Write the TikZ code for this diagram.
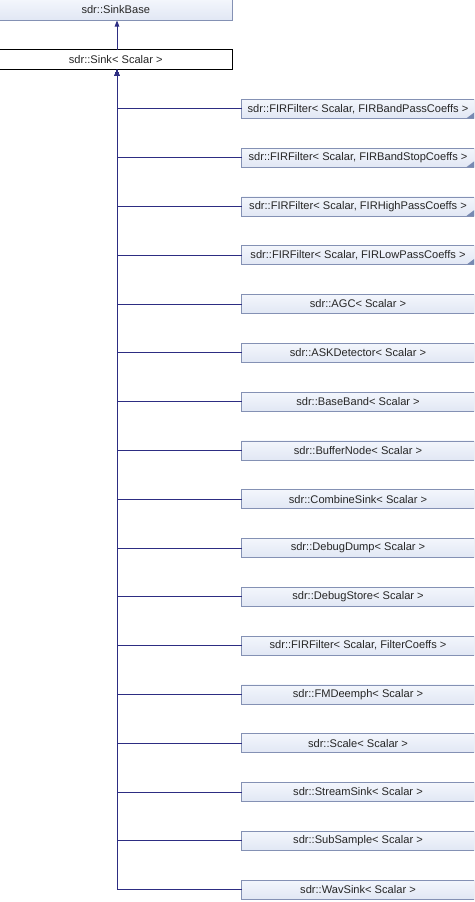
\documentclass[tikz,border=0pt]{standalone}
\usepackage{fontspec}
\setmainfont{Liberation Sans}
\usetikzlibrary{arrows.meta,calc}
\definecolor{boxborder}{RGB}{132,145,180}
\definecolor{boxtop}{RGB}{243,246,252}
\definecolor{boxbot}{RGB}{225,231,244}
\definecolor{edgecol}{RGB}{45,45,130}
\definecolor{trunccol}{RGB}{120,138,178}
\tikzset{
  classbox/.style={draw=boxborder, line width=0.8pt, top color=boxtop, bottom color=boxbot,
    minimum width=233pt, minimum height=19pt, inner sep=0pt, outer sep=0pt,
    font=\fontsize{11.1}{13}\selectfont, text=black!85},
  childbox/.style={classbox, anchor=west},
  curbox/.style={draw=black, line width=0.8pt, fill=white,
    minimum width=233.5pt, minimum height=20pt, inner sep=0pt, outer sep=0pt,
    font=\fontsize{11.1}{13}\selectfont, text=black!85},
  edge/.style={draw=edgecol, line width=0.9pt},
  tip/.style={-{Triangle[length=6pt,width=4.5pt]}},
  trunc/.style={fill=trunccol, draw=none}
}
\begin{document}
\begin{tikzpicture}[x=1pt,y=-1pt]
\useasboundingbox (0,0) rectangle (474,902);
\begin{scope}
\clip (0,0) rectangle (474,902);
\node[classbox, minimum width=233.5pt, minimum height=21pt] (base) at (115.75,10) {sdr::SinkBase};
\node[curbox] (sink) at (115.75,59.5) {sdr::Sink< Scalar >};
\coordinate (sinktop) at (117,49.5);
\coordinate (basebot) at (117,20.5);
\coordinate (sinkbot) at (117,69.5);
\draw[edge,tip] (sinktop) -- (basebot);

\foreach \i/\nm/\txt in {
  0/c0/{sdr::FIRFilter< Scalar, FIRBandPassCoeffs >},
  1/c1/{sdr::FIRFilter< Scalar, FIRBandStopCoeffs >},
  2/c2/{sdr::FIRFilter< Scalar, FIRHighPassCoeffs >},
  3/c3/{sdr::FIRFilter< Scalar, FIRLowPassCoeffs >},
  4/c4/{sdr::AGC< Scalar >},
  5/c5/{sdr::ASKDetector< Scalar >},
  6/c6/{sdr::BaseBand< Scalar >},
  7/c7/{sdr::BufferNode< Scalar >},
  8/c8/{sdr::CombineSink< Scalar >},
  9/c9/{sdr::DebugDump< Scalar >},
  10/c10/{sdr::DebugStore< Scalar >},
  11/c11/{sdr::FIRFilter< Scalar, FilterCoeffs >},
  12/c12/{sdr::FMDeemph< Scalar >},
  13/c13/{sdr::Scale< Scalar >},
  14/c14/{sdr::StreamSink< Scalar >},
  15/c15/{sdr::SubSample< Scalar >},
  16/c16/{sdr::WavSink< Scalar >}}
{
  \node[childbox] (\nm) at (241.5,{108.8+48.8*\i}) {\txt};
  \draw[edge,tip] (\nm.west) -| (sinkbot);
}
\foreach \nm in {c0,c1,c2,c3}{
  \fill[trunc] ($(\nm.south east)+(-8,0)$) -- ($(\nm.south east)+(0,0)$) -- ($(\nm.south east)+(0,-6)$) -- cycle;
}
\end{scope}
\end{tikzpicture}
\end{document}
